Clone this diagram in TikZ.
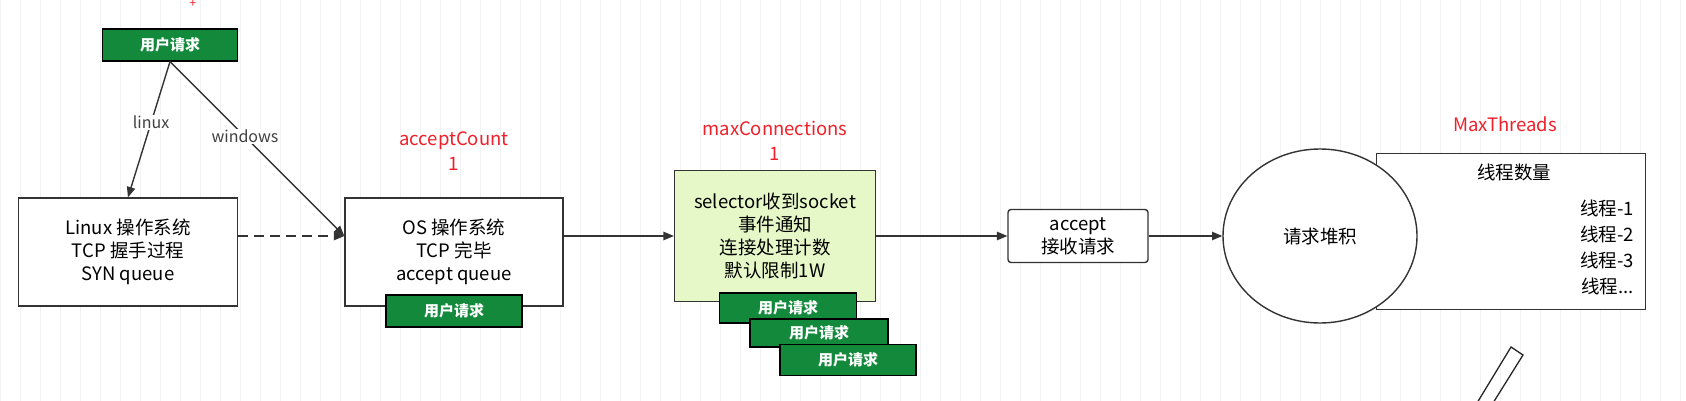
\documentclass[tikz,border=0pt]{standalone}
\usepackage{fontspec}
\setmainfont{Noto Sans CJK SC}
\usetikzlibrary{arrows,positioning,calc,shapes.geometric}

\definecolor{reqgreen}{HTML}{13893C}
\definecolor{selgreen}{HTML}{E6F8C8}
\definecolor{redtxt}{HTML}{F0202A}

\begin{document}
\begin{tikzpicture}
	[
	x=1pt, y=-1pt,
  > = latex,
  box/.style = {draw=black!80, line width=1.4pt, fill=white, align=center, inner sep=0pt, font=\fontsize{18.5}{23}\selectfont},
  req/.style = {draw=black, line width=1.2pt, fill=reqgreen, text=white, inner sep=0pt, font=\fontsize{15}{16}\selectfont\bfseries},
  param/.style = {text=redtxt, align=center, font=\fontsize{18.5}{25}\selectfont},
  flow/.style = {->, line width=1.4pt, draw=black!80, >=triangle 45},
  lbl/.style = {fill=white, inner sep=1pt, font=\fontsize{16}{18}\selectfont, text=black!75}
  ]
	\useasboundingbox (0,0) rectangle (1686,401);
	\fill[white] (0,0) rectangle (1686,401);
	\draw[black!5, step=20] (0,0) grid (1686,401);
	\node[text=redtxt, font=\fontsize{12}{12}\selectfont, inner sep=0pt, anchor=north] (plus) at (193,0) {+};

	% request entry
	\node[req, minimum width=135, minimum height=32] (top) at (170,45) {用户请求};

	% queues
	\node[box, minimum width=219, minimum height=108] (lin) at (128,252) {Linux 操作系统\\TCP 握手过程\\SYN queue};
	\node[box, minimum width=218, minimum height=108] (os) at (454,252) {OS 操作系统\\TCP 完毕\\accept queue};
	\node[req, minimum width=136, minimum height=32] (osq) at (454,311) {用户请求};
	\node[param] (acc) at (454,151) {acceptCount\\1};

	% selector
	\node[box, fill=selgreen, minimum width=201, minimum height=131] (sel) at (775,236) {selector收到socket\\事件通知\\连接处理计数\\默认限制1W};
	\node[param] (maxc) at (775,141) {maxConnections\\1};
	\node[req, minimum width=137, minimum height=30] (q1) at (788,308) {用户请求};
	\node[req, minimum width=138, minimum height=28] (q2) at (819,333) {用户请求};
	\node[req, minimum width=136, minimum height=31] (q3) at (848,360) {用户请求};

	% accept and backlog
	\node[box, minimum width=140, minimum height=53, rounded corners=3pt] (accept) at (1078,236) {accept\\接收请求};
	\node[box, minimum width=269, minimum height=156, anchor=north west] (thr) at (1376,153) {};
	\node[box, ellipse, minimum width=194, minimum height=174] (pile) at (1320,236) {请求堆积};
	\node[font=\fontsize{18.5}{23}\selectfont] (num) at (1514,172) {线程数量};
	\node[align=right, anchor=north east, font=\fontsize{18.5}{26}\selectfont, inner sep=0pt] (list) at (1634,200) {线程-1\\线程-2\\线程-3\\线程...};
	\node[param] (maxt) at (1505,124) {MaxThreads};

	% connectors
	\coordinate (row) at (0,236);
	\draw[flow] (top.south) -- (lin.north -| 128,198) node[lbl, pos=0.45] {linux};
	\draw[flow] (top.south) -- (os.west |- 0,236) node[lbl, pos=0.43] {windows};
	\draw[flow, dashed, dash pattern=on 10pt off 6pt] (lin.east |- row) -- (os.west |- row);
	\draw[flow] (os.east |- row) -- (sel.west |- row);
	\draw[flow] (sel.east |- row) -- (accept.west |- row);
	\draw[flow] (accept.east |- row) -- (pile.west |- row);

	\draw[black!85, line width=1.3pt] (1477,403) -- (1511,347) -- (1523,355) -- (1493,403);
\end{tikzpicture}
\end{document}
